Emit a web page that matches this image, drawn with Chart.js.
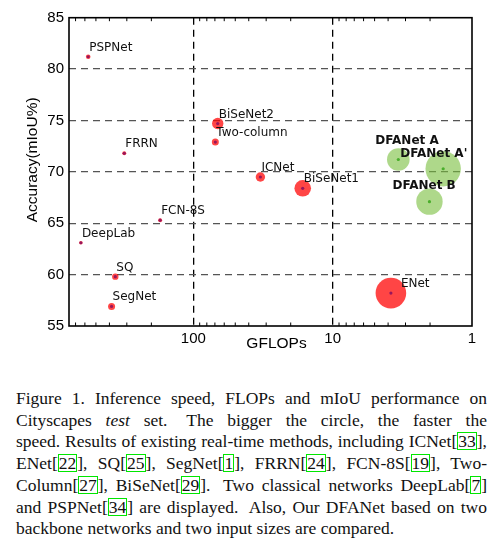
<!DOCTYPE html>
<html>
<head>
<meta charset="utf-8">
<script src="https://cdn.jsdelivr.net/npm/chart.js@4.4.1/dist/chart.umd.min.js"></script>
<style>
  body { margin: 0; background: #fff; width: 504px; height: 552px; overflow: hidden; position: relative; }
  #wrap { position: absolute; left: 0; top: 0; width: 504px; height: 360px; }
  #caption {
    position: absolute; left: 16px; top: 388px; width: 471px;
    font-family: "Liberation Serif", "Times New Roman", serif;
    font-size: 17.5px; line-height: 21.7px; color: #111;
  }
  #caption div { text-align: justify; text-align-last: justify; white-space: nowrap; }
  #caption div.last { text-align: left; text-align-last: left; }
  .c { display: inline-block; line-height: 16px; border: 1.3px solid #00e600; }
  .gap { margin-left: 0.3em; }
</style>
</head>
<body>
<div id="wrap"><canvas id="chart" width="504" height="360"></canvas></div>
<div id="caption">
  <div>Figure 1. Inference speed, FLOPs and mIoU performance on</div>
  <div>Cityscapes <i>test</i> set.<span class="gap"></span> The bigger the circle, the faster the</div>
  <div>speed. Results of existing real-time methods, including ICNet[<span class="c">33</span>],</div>
  <div>ENet[<span class="c">22</span>], SQ[<span class="c">25</span>], SegNet[<span class="c">1</span>], FRRN[<span class="c">24</span>], FCN-8S[<span class="c">19</span>], Two-</div>
  <div>Column[<span class="c">27</span>], BiSeNet[<span class="c">29</span>].<span class="gap"></span> Two classical networks DeepLab[<span class="c">7</span>]</div>
  <div>and PSPNet[<span class="c">34</span>] are displayed.<span class="gap"></span> Also, Our DFANet based on two</div>
  <div class="last">backbone networks and two input sizes are compared.</div>
</div>
<script>
// existing methods (red)
const models = ['PSPNet', 'DeepLab', 'SQ', 'SegNet', 'FRRN', 'FCN-8S', 'BiSeNet2', 'Two-column', 'ICNet', 'BiSeNet1', 'ENet'];
const gflops = [568, 641, 363, 386, 313, 173, 66.8, 69.5, 33.0, 16.4, 3.82];
const miou = [81.2, 63.1, 59.8, 56.9, 71.8, 65.3, 74.7, 72.9, 69.5, 68.4, 58.2];
const speedSize = [2.3, 1.8, 3.2, 3.5, 2, 2, 5.7, 3.5, 4.7, 8.3, 15.3];

// DFANet (green)
const ourModels = ['DFANet A', "DFANet A'", 'DFANet B'];
const ourGflops = [3.38, 1.61, 2.02];
const ourMiou = [71.2, 70.3, 67.1];
const ourSpeedSize = [11.3, 17.7, 13.2];

// axes
const xTickValues = [1, 10, 100];
const xMinorValues = [2, 3, 4, 5, 6, 7, 8, 9, 20, 30, 40, 50, 60, 70, 80, 90, 200, 300, 400, 500, 600, 700];
const xRange = [1, 780];
const yRange = [55, 85];
const yStep = 5;

// label placement (px from the bubble centre), not data
const labelShift = {
  'ENet': [10, -6.6],
  'DFANet A': [-23, -15.6],
  "DFANet A'": [-43, -12.2],
  'DFANet B': [-37, -12.2]
};

const toPoints = (xs, ys, rs) => xs.map((x, i) => ({x: x, y: ys[i], r: rs[i]}));
const dots = (xs, ys, r) => xs.map((x, i) => ({x: x, y: ys[i], r: r}));

const frame = {
  id: 'frame',
  beforeDatasetsDraw(chart) {
    const {ctx, chartArea: a, scales: {x, y}} = chart;
    ctx.save();
    ctx.strokeStyle = '#000';
    ctx.lineWidth = 1;
    ctx.beginPath();
    xMinorValues.forEach(v => {
      const px = x.getPixelForValue(v);
      if (px <= a.left || px >= a.right) return;
      ctx.moveTo(px, a.bottom); ctx.lineTo(px, a.bottom - 3.5);
      ctx.moveTo(px, a.top); ctx.lineTo(px, a.top + 3.5);
    });
    ctx.stroke();
    ctx.lineWidth = 1.6;
    ctx.strokeRect(a.left, a.top, a.right - a.left, a.bottom - a.top);
    ctx.restore();
  }
};

const pointLabels = {
  id: 'pointLabels',
  afterDatasetsDraw(chart) {
    const {ctx} = chart;
    ctx.save();
    ctx.fillStyle = '#111';
    ctx.textAlign = 'left';
    ctx.textBaseline = 'alphabetic';
    const put = (dsIndex, names, bold) => {
      const meta = chart.getDatasetMeta(dsIndex);
      ctx.font = (bold ? 'bold ' : '') + '12px "DejaVu Sans"';
      meta.data.forEach((el, i) => {
        const s = labelShift[names[i]] || [1, -6];
        ctx.fillText(names[i], el.x + s[0], el.y + s[1]);
      });
    };
    put(1, models, false);
    put(3, ourModels, true);
    ctx.restore();
  }
};

const axisTitles = {
  id: 'axisTitles',
  afterDraw(chart) {
    const {ctx, chartArea: a} = chart;
    ctx.save();
    ctx.fillStyle = '#000';
    ctx.font = '15.5px "Liberation Sans"';
    ctx.textAlign = 'center';
    ctx.textBaseline = 'middle';
    ctx.fillText('GFLOPs', (a.left + a.right) / 2 + 6, a.bottom + 18);
    ctx.translate(a.left - 36, (a.top + a.bottom) / 2 - 12);
    ctx.rotate(-Math.PI / 2);
    ctx.fillText('Accuracy(mIoU%)', 0, 0);
    ctx.restore();
  }
};

new Chart(document.getElementById('chart'), {
  type: 'bubble',
  data: {
    datasets: [
      {data: dots(gflops, miou, 1.6), backgroundColor: 'rgba(110,0,100,0.7)', order: 0},
      {data: toPoints(gflops, miou, speedSize), backgroundColor: 'rgba(255,0,0,0.73)', order: 1},
      {data: dots(ourGflops, ourMiou, 1.6), backgroundColor: '#4aae2c', order: 0},
      {data: toPoints(ourGflops, ourMiou, ourSpeedSize), backgroundColor: 'rgba(120,190,60,0.6)', order: 1}
    ]
  },
  options: {
    responsive: false,
    animation: false,
    events: [],
    layout: {padding: {left: 0, top: 16, right: 32, bottom: 0}},
    elements: {point: {borderWidth: 0, hoverRadius: 0}},
    plugins: {legend: {display: false}, tooltip: {enabled: false}},
    scales: {
      x: {
        type: 'logarithmic',
        reverse: true,
        min: xRange[0],
        max: xRange[1],
        afterBuildTicks: s => { s.ticks = xTickValues.map(v => ({value: v})); },
        afterFit: s => { s.height = 34; },
        ticks: {
          autoSkip: false, maxRotation: 0, padding: 4,
          color: '#000', font: {family: 'Liberation Sans', size: 15},
          callback: v => String(v)
        },
        grid: {
          drawTicks: false, lineWidth: 1.3,
          color: c => (c.tick && c.tick.value === xRange[0]) ? 'rgba(0,0,0,0)' : '#000'
        },
        border: {display: false, dash: [7, 5]}
      },
      y: {
        min: yRange[0],
        max: yRange[1],
        afterFit: s => { s.width = 69; },
        ticks: {
          stepSize: yStep, padding: 5,
          color: '#000', font: {family: 'Liberation Sans', size: 15}
        },
        grid: {
          drawTicks: false, lineWidth: 1.3,
          color: c => (c.tick && (c.tick.value === yRange[0] || c.tick.value === yRange[1])) ? 'rgba(0,0,0,0)' : '#555'
        },
        border: {display: false, dash: [7, 5]}
      }
    }
  },
  plugins: [frame, pointLabels, axisTitles]
});
</script>
</body>
</html>
